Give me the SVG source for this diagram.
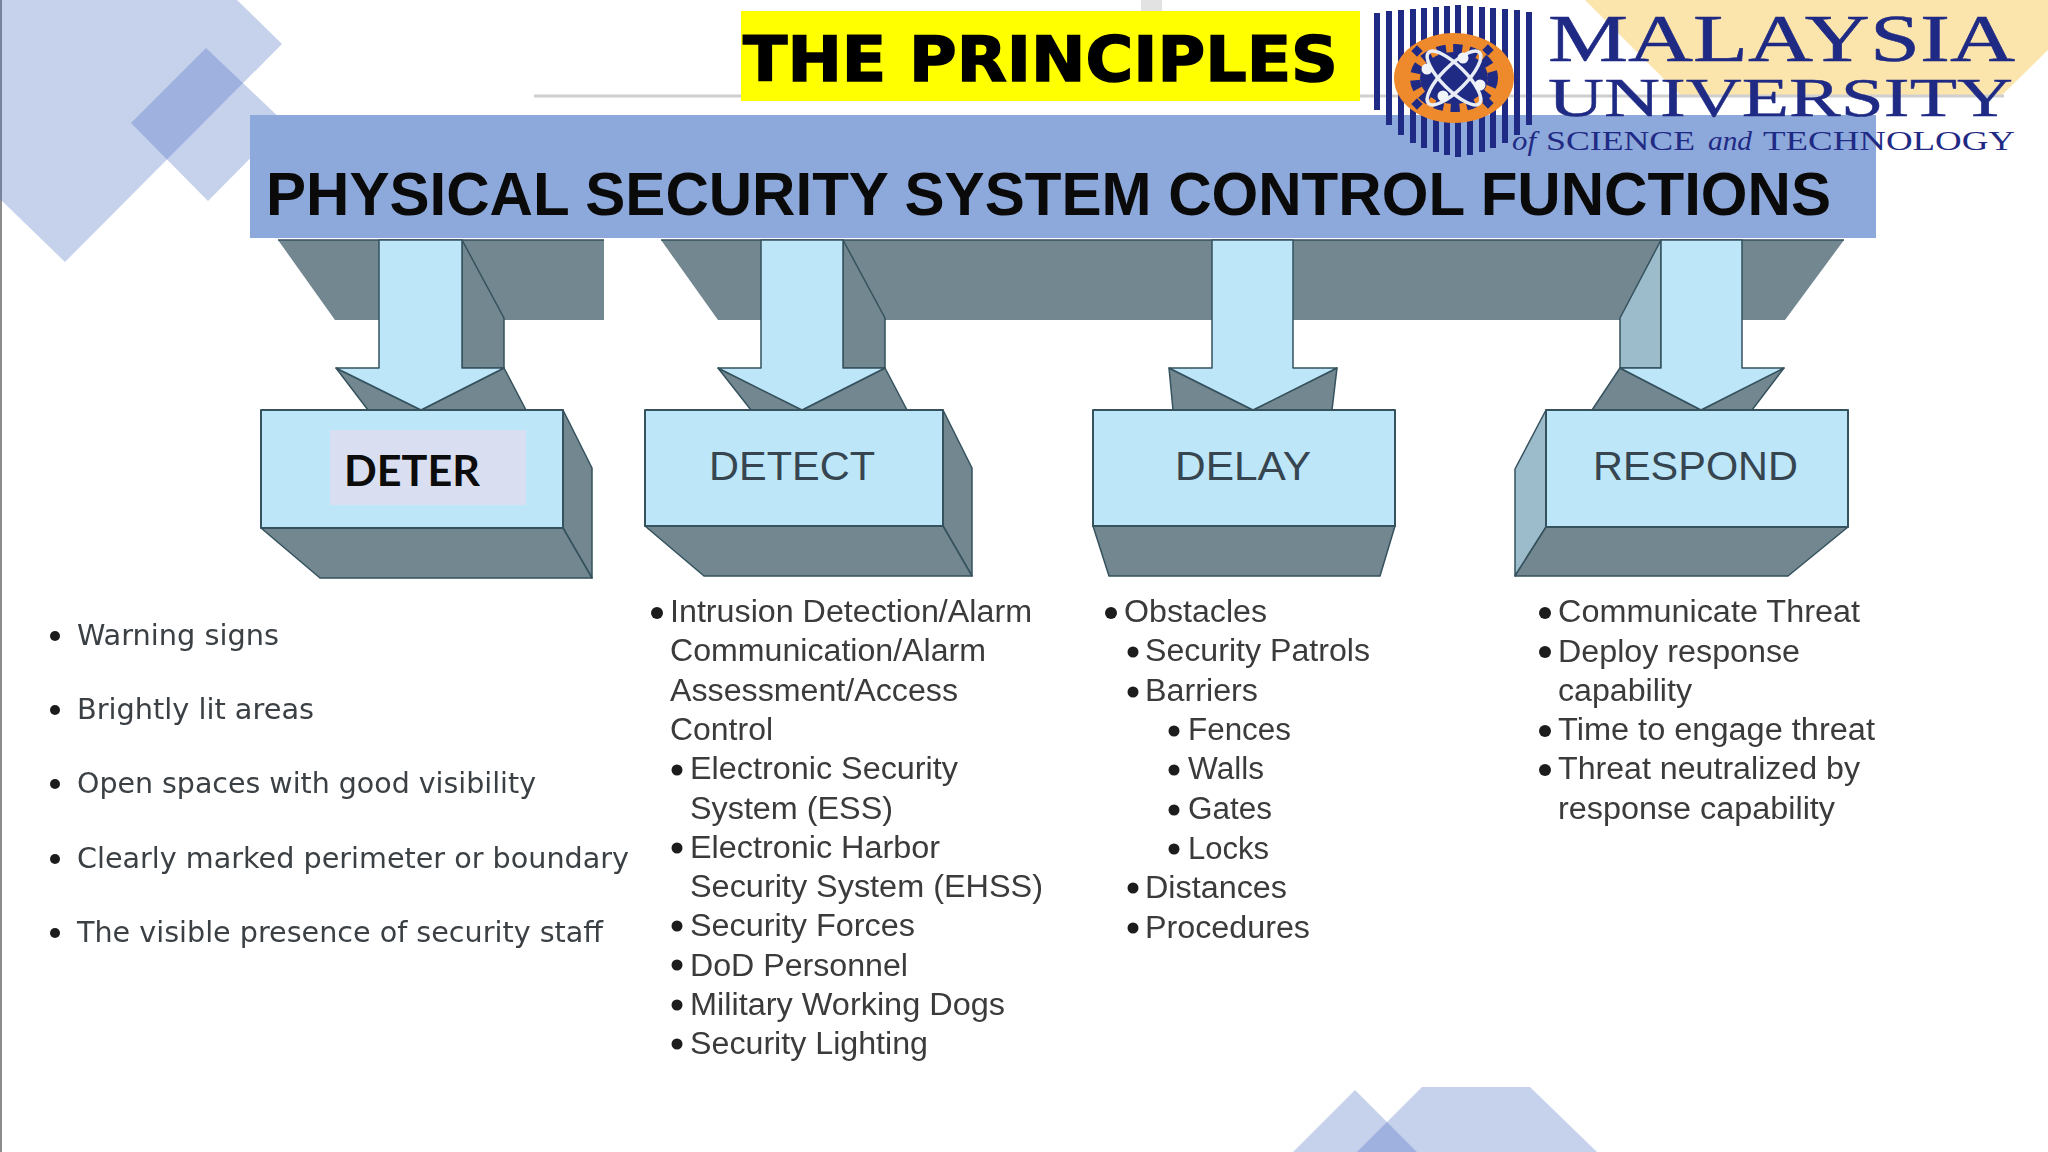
<svg xmlns="http://www.w3.org/2000/svg" width="2048" height="1152" viewBox="0 0 2048 1152">
<style>
.deco{fill:#4b6ec2;fill-opacity:.316}
.dark{fill:#72878f;stroke:#35525e;stroke-width:1.5;stroke-linejoin:round}
.beam{fill:#72878f}
.lite{fill:#9dbccb;stroke:#35525e;stroke-width:1.5;stroke-linejoin:round}
.front{fill:#bde6f9;stroke:#35525e;stroke-width:2;stroke-linejoin:round}
.lab{font-family:"Liberation Sans",Arial,sans-serif;font-size:41px;fill:#36454f}
.li{font-family:"Liberation Sans",Arial,sans-serif;font-size:31px;fill:#3a3a3a}
.lv{font-family:"DejaVu Sans",Verdana,sans-serif;font-size:29px;fill:#3a3f44}
.bu{fill:#1c1c1c}
.logo{font-family:"Liberation Serif","Times New Roman",serif;fill:#1f2a85}
.stripe{stroke:#1f2a85;stroke-width:6;fill:none}
</style>
<defs><filter id="soft" x="-5%" y="-20%" width="110%" height="140%"><feGaussianBlur stdDeviation="0.7"/></filter></defs>
<rect width="2048" height="1152" fill="#ffffff"/>
<rect x="0" y="0" width="2" height="1152" fill="#8c8c8c"/>
<rect x="1141" y="0" width="21" height="11" fill="#e2e2e2"/>
<polygon points="1585,0 2048,0 2048,50 2000,97 1682,97" fill="#fce5ac"/>
<rect x="534" y="94.500" width="1470" height="3" fill="#cfcfcf"/>
<polygon class="deco" points="0,0 237,0 282,44 65,262 0,199"/>
<polygon class="deco" points="206,48 285,123 208,201 131,123"/>
<polygon class="deco" points="1355,1090 1417,1152 1293,1152"/>
<polygon class="deco" points="1422,1087 1530,1087 1597,1152 1357,1152"/>

<g id="title-badge">
<rect x="741" y="11" width="619" height="90" fill="#ffff00"/>
<text x="743" y="81" font-family="'DejaVu Sans',Verdana,sans-serif" font-weight="700" font-size="62" fill="#000" stroke="#000" stroke-width="1.500" textLength="595" lengthAdjust="spacingAndGlyphs">THE PRINCIPLES</text>
</g>

<g id="banner">
<rect x="250" y="115" width="1626" height="123" fill="#8da8da"/>
<text x="266" y="215" font-family="'Liberation Sans',Arial,sans-serif" font-weight="700" font-size="62" fill="#0a0a0a" textLength="1565" lengthAdjust="spacingAndGlyphs">PHYSICAL SECURITY SYSTEM CONTROL FUNCTIONS</text>
</g>

<g id="logo">
<path class="stripe" d="M1377 13V110M1389 11V125M1401 10V135M1413 9V143M1424 8V148M1436 7V152M1447 6V155M1458 5V157M1470 6V155M1482 7V152M1493 8V148M1505 9V143M1517 10V135M1529 12V125" />
<ellipse cx="1454" cy="78" rx="60" ry="45" fill="#ef8a2c"/>
<ellipse cx="1454" cy="78" rx="34" ry="26" fill="#1f2a85"/>
<ellipse cx="1454" cy="78" rx="39" ry="29" fill="none" stroke="#1f2a85" stroke-width="10" stroke-dasharray="9 7"/>
<g fill="#1f2a85">
<rect x="1413" y="47" width="8" height="8" transform="rotate(45 1417 51)"/>
<rect x="1484" y="46" width="8" height="8" transform="rotate(45 1488 50)"/>
<rect x="1413" y="100" width="8" height="8" transform="rotate(45 1417 104)"/>
<rect x="1484" y="99" width="8" height="8" transform="rotate(45 1488 103)"/>
</g>
<g fill="none" stroke="#e8edf5" stroke-width="3.500">
<ellipse cx="1454" cy="78" rx="36" ry="12" transform="rotate(45 1454 78)"/>
<ellipse cx="1454" cy="78" rx="36" ry="12" transform="rotate(-45 1454 78)"/>
</g>
<g fill="#f0f3f8">
<circle cx="1427" cy="69" r="5.500"/><circle cx="1463" cy="58" r="5.500"/><circle cx="1480" cy="85" r="5.500"/><circle cx="1443" cy="96" r="5.500"/>
</g>
<text class="logo" x="1548" y="61" font-size="68" stroke="#1f2a85" stroke-width=".5" textLength="467" lengthAdjust="spacingAndGlyphs">MALAYSIA</text>
<text class="logo" x="1548" y="116" font-size="55" stroke="#1f2a85" stroke-width=".4" textLength="465" lengthAdjust="spacingAndGlyphs">UNIVERSITY</text>
<text class="logo" x="1512" y="150" font-size="28" font-style="italic" textLength="24" lengthAdjust="spacingAndGlyphs">of</text>
<text class="logo" x="1546" y="150" font-size="28" textLength="149" lengthAdjust="spacingAndGlyphs">SCIENCE</text>
<text class="logo" x="1708" y="150" font-size="28" font-style="italic" textLength="44" lengthAdjust="spacingAndGlyphs">and</text>
<text class="logo" x="1763" y="150" font-size="28" textLength="252" lengthAdjust="spacingAndGlyphs">TECHNOLOGY</text>
</g>

<g id="connectors">
<polygon class="beam" points="278,240 604,240 604,320 335,320"/>
<polygon class="beam" points="661,240 1844,240 1785,320 718,320"/>
<path d="M278 240H604M661 240H1844" stroke="#35525e" stroke-width="1.500" fill="none"/>

<polygon class="dark" points="462,240 504,318 504,368 462,368"/>
<polygon class="dark" points="336,368 368,410 526,410 504,368 421,410"/>
<polygon class="front" style="stroke-width:1.500" points="379,240 462,240 462,368 504,368 421,410 336,368 379,368"/>

<polygon class="dark" points="843,240 885,318 885,368 843,368"/>
<polygon class="dark" points="718,368 751,410 907,410 885,368 802,410"/>
<polygon class="front" style="stroke-width:1.500" points="761,240 843,240 843,368 885,368 802,410 718,368 761,368"/>

<polygon class="dark" points="1169,368 1173,410 1332,410 1337,368 1253,410"/>
<polygon class="front" style="stroke-width:1.500" points="1212,240 1293,240 1293,368 1337,368 1253,410 1169,368 1212,368"/>

<polygon class="lite" points="1661,240 1620,318 1620,368 1661,368"/>
<polygon class="dark" points="1620,368 1592,410 1752,410 1784,368 1701,410"/>
<polygon class="front" style="stroke-width:1.500" points="1661,240 1742,240 1742,368 1784,368 1701,410 1620,368 1661,368"/>
</g>

<g id="node-deter">
<polygon class="dark" points="563,410 592,468 592,578 563,528"/>
<polygon class="dark" points="261,528 563,528 592,578 320,578"/>
<rect class="front" x="261" y="410" width="302" height="118"/>
<rect x="330" y="430" width="196" height="75" fill="#d9dff0"/>
<text x="344" y="486" font-family="Lato,'Open Sans',sans-serif" font-weight="700" font-size="42" fill="#0c0c0c" textLength="136" lengthAdjust="spacingAndGlyphs">DETER</text>
</g>
<g id="node-detect">
<polygon class="dark" points="943,410 972,468 972,576 943,526"/>
<polygon class="dark" points="645,526 943,526 972,576 704,576"/>
<rect class="front" x="645" y="410" width="298" height="116"/>
<text class="lab" x="709" y="480" textLength="166" lengthAdjust="spacingAndGlyphs">DETECT</text>
</g>
<g id="node-delay">
<polygon class="dark" points="1093,526 1395,526 1380,576 1109,576"/>
<rect class="front" x="1093" y="410" width="302" height="116"/>
<text class="lab" x="1175" y="480" textLength="136" lengthAdjust="spacingAndGlyphs">DELAY</text>
</g>
<g id="node-respond">
<polygon class="lite" points="1546,410 1515,469 1515,576 1546,527"/>
<polygon class="dark" points="1546,527 1848,527 1788,576 1515,576"/>
<rect class="front" x="1546" y="410" width="302" height="117"/>
<text class="lab" x="1593" y="480" textLength="205" lengthAdjust="spacingAndGlyphs">RESPOND</text>
</g>

<g id="list-deter" filter="url(#soft)">
<g class="bu"><circle cx="55" cy="636" r="5"/><circle cx="55" cy="710" r="5"/><circle cx="55" cy="784" r="5"/><circle cx="55" cy="859" r="5"/><circle cx="55" cy="933" r="5"/></g>
<text class="lv" x="77" y="645" textLength="202" lengthAdjust="spacingAndGlyphs">Warning signs</text>
<text class="lv" x="77" y="719" textLength="237" lengthAdjust="spacingAndGlyphs">Brightly lit areas</text>
<text class="lv" x="77" y="793" textLength="459" lengthAdjust="spacingAndGlyphs">Open spaces with good visibility</text>
<text class="lv" x="77" y="868" textLength="552" lengthAdjust="spacingAndGlyphs">Clearly marked perimeter or boundary</text>
<text class="lv" x="77" y="942" textLength="526" lengthAdjust="spacingAndGlyphs">The visible presence of security staff</text>
</g>

<g id="list-detect" filter="url(#soft)">
<g class="bu"><circle cx="657" cy="613" r="6"/><circle cx="677" cy="770" r="5.500"/><circle cx="677" cy="848" r="5.500"/><circle cx="677" cy="926" r="5.500"/><circle cx="677" cy="965" r="5.500"/><circle cx="677" cy="1005" r="5.500"/><circle cx="677" cy="1044" r="5.500"/></g>
<text class="li" x="670" y="622" textLength="362" lengthAdjust="spacingAndGlyphs">Intrusion Detection/Alarm</text>
<text class="li" x="670" y="661" textLength="316" lengthAdjust="spacingAndGlyphs">Communication/Alarm</text>
<text class="li" x="670" y="701" textLength="288" lengthAdjust="spacingAndGlyphs">Assessment/Access</text>
<text class="li" x="670" y="740" textLength="103" lengthAdjust="spacingAndGlyphs">Control</text>
<text class="li" x="690" y="779" textLength="268" lengthAdjust="spacingAndGlyphs">Electronic Security</text>
<text class="li" x="690" y="819" textLength="203" lengthAdjust="spacingAndGlyphs">System (ESS)</text>
<text class="li" x="690" y="858" textLength="250" lengthAdjust="spacingAndGlyphs">Electronic Harbor</text>
<text class="li" x="690" y="897" textLength="353" lengthAdjust="spacingAndGlyphs">Security System (EHSS)</text>
<text class="li" x="690" y="936" textLength="225" lengthAdjust="spacingAndGlyphs">Security Forces</text>
<text class="li" x="690" y="976" textLength="218" lengthAdjust="spacingAndGlyphs">DoD Personnel</text>
<text class="li" x="690" y="1015" textLength="315" lengthAdjust="spacingAndGlyphs">Military Working Dogs</text>
<text class="li" x="690" y="1054" textLength="238" lengthAdjust="spacingAndGlyphs">Security Lighting</text>
</g>

<g id="list-delay" filter="url(#soft)">
<g class="bu"><circle cx="1111" cy="613" r="6"/><circle cx="1133" cy="652" r="5.500"/><circle cx="1133" cy="692" r="5.500"/><circle cx="1174" cy="731" r="5.500"/><circle cx="1174" cy="770" r="5.500"/><circle cx="1174" cy="810" r="5.500"/><circle cx="1174" cy="849" r="5.500"/><circle cx="1133" cy="888" r="5.500"/><circle cx="1133" cy="928" r="5.500"/></g>
<text class="li" x="1124" y="622" textLength="143" lengthAdjust="spacingAndGlyphs">Obstacles</text>
<text class="li" x="1145" y="661" textLength="225" lengthAdjust="spacingAndGlyphs">Security Patrols</text>
<text class="li" x="1145" y="701" textLength="113" lengthAdjust="spacingAndGlyphs">Barriers</text>
<text class="li" x="1188" y="740" textLength="103" lengthAdjust="spacingAndGlyphs">Fences</text>
<text class="li" x="1188" y="779" textLength="76" lengthAdjust="spacingAndGlyphs">Walls</text>
<text class="li" x="1188" y="819" textLength="84" lengthAdjust="spacingAndGlyphs">Gates</text>
<text class="li" x="1188" y="859" textLength="81" lengthAdjust="spacingAndGlyphs">Locks</text>
<text class="li" x="1145" y="898" textLength="142" lengthAdjust="spacingAndGlyphs">Distances</text>
<text class="li" x="1145" y="938" textLength="165" lengthAdjust="spacingAndGlyphs">Procedures</text>
</g>

<g id="list-respond" filter="url(#soft)">
<g class="bu"><circle cx="1545" cy="613" r="6"/><circle cx="1545" cy="652" r="6"/><circle cx="1545" cy="731" r="6"/><circle cx="1545" cy="770" r="6"/></g>
<text class="li" x="1558" y="622" textLength="302" lengthAdjust="spacingAndGlyphs">Communicate Threat</text>
<text class="li" x="1558" y="662" textLength="242" lengthAdjust="spacingAndGlyphs">Deploy response</text>
<text class="li" x="1558" y="701" textLength="134" lengthAdjust="spacingAndGlyphs">capability</text>
<text class="li" x="1558" y="740" textLength="317" lengthAdjust="spacingAndGlyphs">Time to engage threat</text>
<text class="li" x="1558" y="779" textLength="302" lengthAdjust="spacingAndGlyphs">Threat neutralized by</text>
<text class="li" x="1558" y="819" textLength="277" lengthAdjust="spacingAndGlyphs">response capability</text>
</g>
</svg>
